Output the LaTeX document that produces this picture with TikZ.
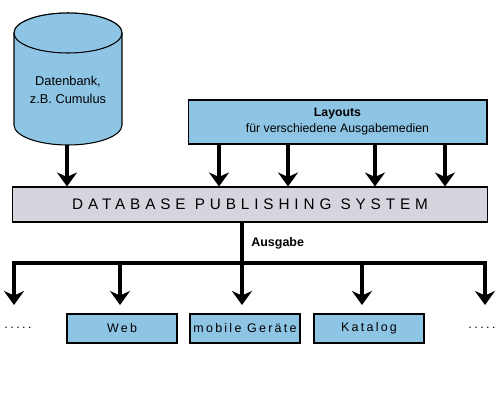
\documentclass[tikz,border=0pt]{standalone}
\usepackage{fontspec}
\setmainfont{Liberation Sans}
\usetikzlibrary{arrows.meta}
\definecolor{dbblue}{RGB}{142,197,229}
\definecolor{sysgrey}{RGB}{213,213,222}

\begin{document}
\begin{tikzpicture}[
  x=0.02cm, y=-0.02cm,
  box/.style={draw, line width=0.6pt, fill=dbblue, align=center, inner sep=0pt},
  outbox/.style={box, minimum width=2.2cm, minimum height=0.58cm, font=\fontsize{7.1}{8}\selectfont\addfontfeature{LetterSpace=18}},
  dots/.style={inner sep=0pt, font=\fontsize{7.1}{8}\selectfont\addfontfeature{LetterSpace=20}},
  arrow/.style={-{Stealth[length=0.28cm, width=0.4cm, inset=0.09cm]}, line width=0.08cm},
  bus/.style={line width=0.08cm, line cap=rect}
]
\useasboundingbox (0,0) rectangle (500,400);
\filldraw[fill=dbblue, line width=0.6pt] (14,33) -- (14,125) arc[start angle=180, end angle=360, x radius=1.08cm, y radius=0.4cm] -- (122,33) arc[start angle=0, end angle=180, x radius=1.08cm, y radius=0.4cm] -- cycle;
\filldraw[fill=dbblue, line width=0.6pt] (68,33) ellipse[x radius=1.08cm, y radius=0.4cm];
\node[minimum width=2.16cm, minimum height=2.64cm, inner sep=0pt] (db) at (67,79) {};
\node[align=center, font=\fontsize{7.3}{10.2}\selectfont] (dbtext) at (68,90) {Datenbank,\\z.B. Cumulus};
\node[box, minimum width=5.98cm, minimum height=0.88cm, font=\fontsize{7}{9.1}\selectfont] (lay) at (337.5,122) {\textbf{Layouts}\\für verschiedene Ausgabemedien};
\node[draw, line width=0.6pt, fill=sysgrey, minimum width=9.52cm, minimum height=0.7cm, inner sep=0pt, font=\fontsize{8.7}{10}\selectfont\addfontfeature{LetterSpace=32}] (dps) at (250,204.5) {DATABASE PUBLISHING SYSTEM};
\node[anchor=west, inner sep=0pt, font=\bfseries\fontsize{7.1}{8}\selectfont] (ausg) at (251,243) {Ausgabe};
\node[outbox] (web) at (122,328.5) {Web};
\node[outbox] (mob) at (245,328.5) {mobile Geräte};
\node[outbox] (kat) at (369,328.5) {Katalog};
\node[dots] (more1) at (18,328) {.....};
\node[dots] (more2) at (482,328) {.....};
\foreach \x [count=\i] in {14,120,242,362,485}
  \coordinate (out\i) at (\x,305);
\coordinate (bus) at (242,263);
\draw[arrow] (db.south) -- (db.south |- dps.north);
\foreach \x in {219,288,375,445}
  \draw[arrow] (lay.south -| \x,0) -- (dps.north -| \x,0);
\draw[bus] (dps.south -| bus) -- (bus);
\draw[bus] (bus -| out1) -- (bus -| out5);
\foreach \i in {1,...,5}
  \draw[arrow] (bus -| out\i) -- (out\i);
\end{tikzpicture}
\end{document}
